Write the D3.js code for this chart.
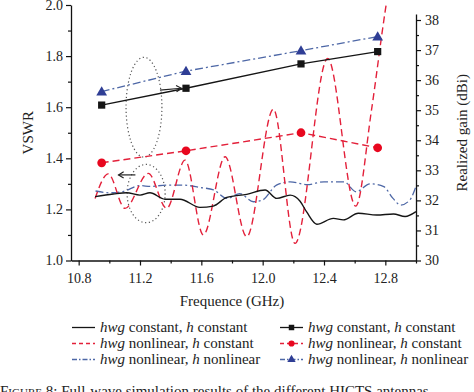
<!DOCTYPE html>
<html><head><meta charset="utf-8">
<script src="https://cdn.jsdelivr.net/npm/d3@7"></script>
<style>
html,body{margin:0;padding:0;background:#fff;}
svg{display:block;}
text{font-family:"Liberation Serif","Times New Roman",serif;fill:#222;}
</style></head>
<body>
<svg id="c" width="474" height="392"></svg>
<script>
// ---- data ----
const xTicks = [10.8, 11.2, 11.6, 12.0, 12.4, 12.8];
const xMinor = [11.0, 11.4, 11.8, 12.2, 12.6, 13.0];
const vswrTicks = [1.0, 1.2, 1.4, 1.6, 1.8, 2.0];
const vswrMinor = [1.1, 1.3, 1.5, 1.7, 1.9];
const gainTicks = [30, 31, 32, 33, 34, 35, 36, 37, 38];
const gainMinor = [30.5, 31.5, 32.5, 33.5, 34.5, 35.5, 36.5, 37.5];

// VSWR curves [GHz, VSWR]
const vswrConstConst = [[10.907,1.25],[11.026,1.26],[11.113,1.265],[11.20,1.256],[11.265,1.265],[11.363,1.240],[11.461,1.240],[11.591,1.208],[11.678,1.213],[11.766,1.247],[11.896,1.259],[12.016,1.276],[12.092,1.243],[12.179,1.256],[12.244,1.232],[12.287,1.190],[12.353,1.142],[12.461,1.165],[12.526,1.159],[12.624,1.185],[12.744,1.178],[12.853,1.182],[12.929,1.172],[13.0,1.191]];
const vswrNonConst = [[10.907,1.243],[10.993,1.339],[11.102,1.204],[11.254,1.341],[11.374,1.204],[11.494,1.393],[11.613,1.100],[11.755,1.406],[11.896,1.093],[12.070,1.592],[12.211,1.067],[12.424,1.791],[12.607,1.213],[12.71,1.59],[12.80,1.98],[12.86,2.2]];
const vswrNonNon = [[10.91,1.272],[11.00,1.265],[11.09,1.270],[11.20,1.293],[11.27,1.290],[11.37,1.295],[11.48,1.295],[11.59,1.286],[11.68,1.276],[11.77,1.243],[11.85,1.262],[11.94,1.230],[12.00,1.237],[12.09,1.295],[12.18,1.308],[12.29,1.297],[12.40,1.308],[12.53,1.308],[12.61,1.269],[12.70,1.300],[12.79,1.289],[12.85,1.243],[12.90,1.217],[12.96,1.237],[13.0,1.29]];

// realized gain points [GHz, dBi]
const gainFreqs = [10.95, 11.5, 12.25, 12.75];
const gainConstConst = [35.17, 35.73, 36.54, 36.95];
const gainNonConst = [33.25, 33.65, 34.25, 33.75];
const gainNonNon = [35.62, 36.30, 36.98, 37.45];

// annotations (data units)
const ellipseGain = {f:11.226, g:35.1, rf:0.117, rg:1.66};
const ellipseVswr = {f:11.24, v:1.262, rf:0.124, rv:0.114};
const arrowGain = {f0:11.33, g0:35.67, f1:11.47, g1:35.73};
const arrowVswr = {f0:11.17, v0:1.335, f1:11.06, v1:1.335};

// ---- drawing ----
const svg = d3.select("#c");
const L = 71, R = 416, T = 5, B = 260.5;
const x = d3.scaleLinear().domain([10.75, 13.0]).range([L, R]);
const yL = d3.scaleLinear().domain([1.0, 2.0]).range([B, T]);
const yR = d3.scaleLinear().domain([30, 38.2]).range([B, 14]);

const RED = "#e3203a", BLUE = "#4d67a6", TRI = "#2f3e95", BLK = "#151515";

svg.append("defs").append("clipPath").attr("id","clip")
  .append("rect").attr("x",L).attr("y",T).attr("width",R-L).attr("height",B-T);

// axes
const fs = "14px";
const gx = svg.append("g").attr("transform",`translate(0,${B})`)
  .call(d3.axisBottom(x).tickValues(xTicks).tickSize(5).tickSizeOuter(0).tickFormat(d3.format(".1f")));
gx.append("g").call(d3.axisBottom(x).tickValues(xMinor).tickSize(3).tickFormat("")).select(".domain").remove();
const gl = svg.append("g").attr("transform",`translate(${L},0)`)
  .call(d3.axisLeft(yL).tickValues(vswrTicks).tickSize(5).tickSizeOuter(0).tickFormat(d3.format(".1f")));
gl.append("g").call(d3.axisLeft(yL).tickValues(vswrMinor).tickSize(3).tickFormat("")).select(".domain").remove();
const gr = svg.append("g").attr("transform",`translate(${R},0)`)
  .call(d3.axisRight(yR).tickValues(gainTicks).tickSize(5).tickSizeOuter(0).tickFormat(d3.format("d")));
gr.append("g").call(d3.axisRight(yR).tickValues(gainMinor).tickSize(3).tickFormat("")).select(".domain").remove();
[gx,gl,gr].forEach(g=>{
  g.selectAll("path.domain").attr("stroke","#111").attr("stroke-width",1.3);
  g.selectAll("line").attr("stroke","#111").attr("stroke-width",1.2);
  g.selectAll("text").style("font-family",'"Liberation Serif","Times New Roman",serif').style("font-size",fs).attr("fill","#222");
});
gx.selectAll(".tick text").attr("dy","1.05em");
gl.selectAll(".tick text").attr("x",-8);
gr.selectAll(".tick text").attr("x",9);

// axis titles
svg.append("text").attr("transform",`translate(33,${(T+B)/2}) rotate(-90)`).attr("text-anchor","middle")
  .style("font-size","15px").text("VSWR");
svg.append("text").attr("transform",`translate(467,${(T+B)/2}) rotate(-90)`).attr("text-anchor","middle")
  .style("font-size","15px").text("Realized gain (dBi)");
svg.append("text").attr("x",232).attr("y",306).attr("text-anchor","middle")
  .style("font-size","15px").text("Frequence (GHz)");

const plot = svg.append("g").attr("clip-path","url(#clip)");
const lineV = d3.line().x(d=>x(d[0])).y(d=>yL(d[1])).curve(d3.curveMonotoneX);
const lineG = d3.line().x(d=>x(d[0])).y(d=>yR(d[1]));

// annotations: dotted ellipses
plot.append("ellipse").attr("cx",x(ellipseGain.f)).attr("cy",yR(ellipseGain.g))
  .attr("rx",x(ellipseGain.f+ellipseGain.rf)-x(ellipseGain.f)).attr("ry",yR(ellipseGain.g)-yR(ellipseGain.g+ellipseGain.rg))
  .attr("fill","none").attr("stroke","#555").attr("stroke-width",1.2).attr("stroke-dasharray","1.2,2.6");
plot.append("ellipse").attr("cx",x(ellipseVswr.f)).attr("cy",yL(ellipseVswr.v))
  .attr("rx",x(ellipseVswr.f+ellipseVswr.rf)-x(ellipseVswr.f)).attr("ry",yL(ellipseVswr.v)-yL(ellipseVswr.v+ellipseVswr.rv))
  .attr("fill","none").attr("stroke","#555").attr("stroke-width",1.2).attr("stroke-dasharray","1.2,2.6");

// VSWR curves
plot.append("path").datum(vswrNonNon).attr("d",lineV).attr("fill","none").attr("stroke",BLUE)
  .attr("stroke-width",1.3).attr("stroke-dasharray","8,3,2,3");
plot.append("path").datum(vswrNonConst).attr("d",lineV).attr("fill","none").attr("stroke",RED)
  .attr("stroke-width",1.4).attr("stroke-dasharray","7,4");
plot.append("path").datum(vswrConstConst).attr("d",lineV).attr("fill","none").attr("stroke",BLK)
  .attr("stroke-width",1.4);

// gain series
const sq = gainFreqs.map((f,i)=>[f,gainConstConst[i]]);
const ci = gainFreqs.map((f,i)=>[f,gainNonConst[i]]);
const tr = gainFreqs.map((f,i)=>[f,gainNonNon[i]]);
plot.append("path").datum(sq).attr("d",lineG).attr("fill","none").attr("stroke",BLK).attr("stroke-width",1.3);
plot.append("path").datum(ci).attr("d",lineG).attr("fill","none").attr("stroke",RED).attr("stroke-width",1.4).attr("stroke-dasharray","7,4");
plot.append("path").datum(tr).attr("d",lineG).attr("fill","none").attr("stroke",BLUE).attr("stroke-width",1.3).attr("stroke-dasharray","8,3,2,3");

const symSq = d3.symbol().type(d3.symbolSquare).size(52);
const symCi = d3.symbol().type(d3.symbolCircle).size(60);
const symTr = d3.symbol().type(d3.symbolTriangle).size(50);
svg.selectAll(".sq").data(sq).join("path").attr("d",symSq).attr("transform",d=>`translate(${x(d[0])},${yR(d[1])})`).attr("fill",BLK);
svg.selectAll(".ci").data(ci).join("path").attr("d",symCi).attr("transform",d=>`translate(${x(d[0])},${yR(d[1])})`).attr("fill","#e8071f");
svg.selectAll(".tr").data(tr).join("path").attr("d",symTr).attr("transform",d=>`translate(${x(d[0])},${yR(d[1])+0.8})`).attr("fill",TRI);

// arrows
function arrow(x0,y0,x1,y1){
  const g = svg.append("g").attr("stroke","#222").attr("stroke-width",1.2).attr("fill","none");
  g.append("line").attr("x1",x0).attr("y1",y0).attr("x2",x1).attr("y2",y1);
  const a = Math.atan2(y1-y0,x1-x0), h=6;
  const p = [[x1-h*Math.cos(a-0.55),y1-h*Math.sin(a-0.55)],[x1,y1],[x1-h*Math.cos(a+0.55),y1-h*Math.sin(a+0.55)]];
  g.append("path").attr("d",d3.line()(p));
}
arrow(x(arrowGain.f0),yR(arrowGain.g0),x(arrowGain.f1),yR(arrowGain.g1));
arrow(x(arrowVswr.f0),yL(arrowVswr.v0),x(arrowVswr.f1),yL(arrowVswr.v1));

// legend
const legend = [
  {col:0,row:0,a:"constant",b:"constant",color:BLK,dash:null,sym:null},
  {col:0,row:1,a:"nonlinear",b:"constant",color:RED,dash:"4,3",sym:null},
  {col:0,row:2,a:"nonlinear",b:"nonlinear",color:BLUE,dash:"5,2,1.5,2",sym:null},
  {col:1,row:0,a:"constant",b:"constant",color:BLK,dash:null,sym:symSq,fill:BLK},
  {col:1,row:1,a:"nonlinear",b:"constant",color:RED,dash:"4,3",sym:symCi,fill:"#e8071f"},
  {col:1,row:2,a:"nonlinear",b:"nonlinear",color:BLUE,dash:"5,2,1.5,2",sym:symTr,fill:TRI}
];
const colX = [72, 280], rowY = [332, 348, 364];
legend.forEach(d=>{
  const g = svg.append("g").attr("transform",`translate(${colX[d.col]},${rowY[d.row]})`);
  g.append("line").attr("x1",0).attr("x2",23).attr("y1",-4.5).attr("y2",-4.5).attr("stroke",d.color)
    .attr("stroke-width",1.3).attr("stroke-dasharray",d.dash);
  if(d.sym) g.append("path").attr("d",d.sym.size(30)()).attr("transform","translate(11.5,-4.5)").attr("fill",d.fill);
  const t = g.append("text").attr("x",28).attr("y",0).style("font-size","15px");
  t.append("tspan").style("font-style","italic").text("hwg");
  t.append("tspan").text(` ${d.a}, `);
  t.append("tspan").style("font-style","italic").text("h");
  t.append("tspan").text(` ${d.b}`);
});

// caption (cut off at bottom, as in the source)
const cap = svg.append("text").attr("x",0).attr("y",396).style("font-size","15px");
cap.append("tspan").style("font-variant","small-caps").text("Figure 8: ");
cap.append("tspan").text("Full-wave simulation results of the different HICTS antennas.");
</script>
</body></html>
